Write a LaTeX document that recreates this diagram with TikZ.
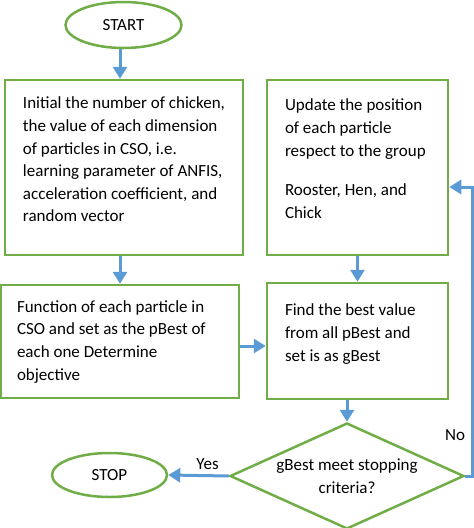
\documentclass[tikz,border=0pt]{standalone}
\usepackage{fontspec}
\setmainfont{Carlito}
\usetikzlibrary{positioning, shapes.geometric, arrows.meta, calc}
\definecolor{boxgreen}{RGB}{112,173,71}
\definecolor{flowblue}{RGB}{91,155,213}
\newcommand{\boxtext}[3]{\parbox[c][#1][t]{#2}{\raggedright #3}}
\hfuzz=30pt
\begin{document}
\begin{tikzpicture}[x=1pt, y=-1pt, >={Triangle[length=12pt,width=14pt]},
  every node/.style={font=\fontsize{17}{22.6}\selectfont},
  flowbox/.style={draw=boxgreen, line width=2.5pt, rectangle, inner sep=0pt},
  term/.style={draw=boxgreen, line width=2.5pt, ellipse, inner sep=0pt},
  decide/.style={draw=boxgreen, line width=2.5pt, diamond, aspect=2.2, inner sep=0pt, align=center},
  flow/.style={->, draw=flowblue, line width=3pt}]
  \useasboundingbox (0,0) rectangle (474,528);

  \node[term, minimum width=116pt, minimum height=46pt] (start) at (123.5,25) {START};
  \node[flowbox, minimum width=238pt, minimum height=175pt] (init) at (124,167.5)
    {\boxtext{141pt}{202pt}{Initial the number of chicken,\\ the value of each dimension\\ of particles in CSO, i.e.\\ learning parameter of ANFIS,\\ acceleration coefficient, and\\ random vector}};
  \node[flowbox, minimum width=181pt, minimum height=175pt] (update) at (357.5,167.5)
    {\boxtext{137pt}{145pt}{Update the position\\ of each particle\\ respect to the group\\[17pt] Rooster, Hen, and\\ Chick}};
  \node[flowbox, minimum width=238pt, minimum height=113pt] (func) at (120,341.5)
    {\boxtext{82pt}{206pt}{Function of each particle in\\ CSO and set as the pBest of\\ each one Determine\\ objective}};
  \node[flowbox, minimum width=181pt, minimum height=116pt] (find) at (357.5,341)
    {\boxtext{74pt}{145pt}{Find the best value\\ from all pBest and\\ set is as gBest}};
  \node[decide, minimum width=234pt, minimum height=106pt] (crit) at (347,476)
    {gBest meet stopping\\ criteria?};
  \node[term, minimum width=115pt, minimum height=44pt] (stop) at (109.5,475) {STOP};
  \coordinate (aux1) at (472,187);

  \path
    (func.north |- start.south) edge[flow] (func.north |- init.north)
    (func.north |- init.south) edge[flow] (func.north)
    (update.south) edge[flow] (find.north)
    ([yshift=-4.5pt]func.east) edge[flow] ([yshift=-4.5pt]func.east -| find.west)
    (crit.north |- find.south) edge[flow] (crit.north)
    (crit.west) edge[flow] node[pos=0.35, above=1pt] {Yes} (stop.east);
  \draw[flow] (crit.east) -| node[pos=0.57, left=2pt] {No} (aux1) -- (aux1 -| update.east);
\end{tikzpicture}
\end{document}
